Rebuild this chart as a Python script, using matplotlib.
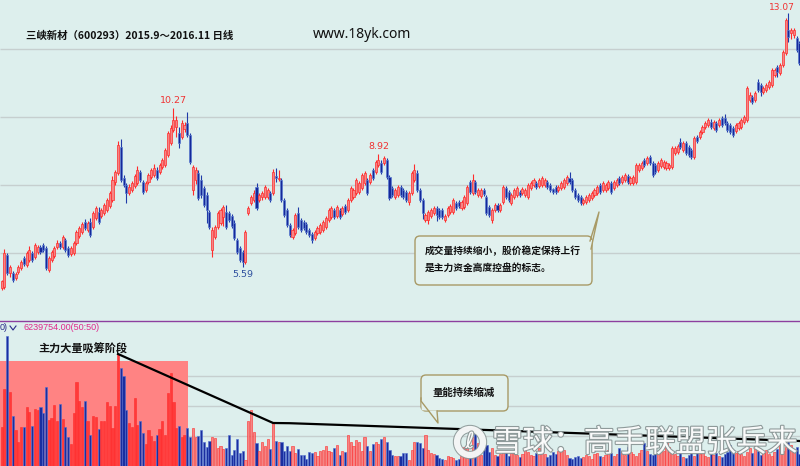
import matplotlib
matplotlib.use("Agg")
import matplotlib.pyplot as plt
from matplotlib.patches import FancyBboxPatch, Polygon, Rectangle, Circle
import matplotlib.patheffects as pe
import numpy as np

plt.rcParams['font.family'] = ['Noto Sans CJK SC', 'DejaVu Sans']

# ---------------- data (daily candles, 三峡新材 600293) ----------------
opens = [4.97, 5.00, 5.94, 5.41, 5.41, 5.26, 5.44, 5.56, 5.85, 5.65,
         5.79, 6.00, 5.88, 6.03, 6.17, 6.23, 6.15, 5.50, 5.79, 5.91,
         6.17, 6.29, 6.17, 6.38, 6.15, 5.97, 6.00, 6.29, 6.50, 6.62,
         6.91, 6.68, 6.91, 6.76, 7.03, 7.21, 7.09, 7.18, 7.26, 7.38,
         7.56, 8.09, 8.35, 9.12, 8.21, 8.00, 7.76, 7.85, 7.97, 8.06,
         8.38, 8.09, 7.85, 8.09, 8.23, 8.29, 8.44, 8.38, 8.53, 8.59,
         8.88, 9.23, 9.62, 9.70, 9.53, 9.41, 9.65, 9.82, 9.47, 7.85,
         8.15, 8.35, 8.15, 7.91, 7.70, 7.21, 6.09, 6.47, 6.76, 6.88,
         7.06, 7.21, 7.18, 7.09, 6.88, 6.38, 6.15, 6.03, 5.74, 7.18,
         7.47, 7.56, 7.94, 7.56, 7.65, 7.65, 7.65, 7.76, 7.76, 8.26,
         8.18, 8.15, 7.56, 7.26, 6.82, 6.47, 6.59, 7.18, 6.97, 6.91,
         6.85, 6.68, 6.56, 6.44, 6.59, 6.62, 6.68, 6.76, 6.97, 7.06,
         7.26, 7.09, 7.26, 7.15, 7.38, 7.26, 7.56, 7.65, 7.76, 7.79,
         7.91, 8.06, 8.15, 8.09, 8.44, 8.38, 8.59, 8.65, 8.65, 8.73,
         8.23, 7.91, 7.65, 7.70, 7.94, 7.85, 7.79, 7.50, 7.76, 8.15,
         8.35, 7.85, 7.56, 6.97, 6.97, 7.09, 7.18, 7.32, 7.26, 7.26,
         6.97, 7.12, 7.21, 7.21, 7.47, 7.50, 7.32, 7.35, 7.47, 8.09,
         7.76, 8.09, 7.70, 7.68, 7.85, 7.65, 7.35, 6.97, 7.26, 7.41,
         7.26, 7.50, 7.91, 7.79, 7.47, 7.65, 7.70, 7.79, 7.76, 7.70,
         7.65, 7.91, 8.00, 8.06, 7.97, 8.00, 8.00, 8.09, 8.00, 7.88,
         7.94, 7.85, 7.91, 7.94, 8.06, 8.21, 8.15, 7.85, 7.70, 7.65,
         7.47, 7.50, 7.56, 7.62, 7.70, 7.76, 8.00, 7.85, 7.85, 7.91,
         8.06, 7.91, 8.00, 8.21, 8.09, 8.15, 8.26, 8.06, 8.06, 8.09,
         8.44, 8.50, 8.73, 8.65, 8.82, 8.65, 8.59, 8.44, 8.56, 8.53,
         8.50, 8.50, 8.53, 8.94, 8.97, 9.26, 9.03, 9.23, 9.12, 9.03,
         8.82, 9.41, 9.41, 9.56, 9.70, 9.76, 9.85, 9.67, 9.82, 9.76,
         9.97, 9.97, 9.82, 9.76, 9.67, 9.59, 9.67, 9.70, 9.85, 9.91,
         10.50, 10.59, 10.50, 11.03, 10.94, 10.73, 10.79, 10.88, 10.94, 11.23,
         11.47, 11.29, 11.53, 11.88, 12.56, 12.47, 12.41, 12.32, 12.18]
closes = [5.18, 6.00, 5.41, 5.59, 5.21, 5.38, 5.59, 5.74, 5.68, 6.00,
          6.09, 5.79, 6.23, 6.17, 6.03, 6.09, 5.56, 5.85, 6.03, 6.15,
          6.29, 6.17, 6.47, 6.09, 5.94, 6.15, 6.29, 6.62, 6.73, 6.85,
          6.73, 6.88, 6.53, 7.18, 7.32, 6.91, 7.26, 7.41, 7.56, 7.76,
          8.15, 8.38, 9.18, 8.15, 8.00, 7.76, 7.94, 8.06, 8.26, 8.44,
          8.15, 7.79, 8.06, 8.29, 8.44, 8.50, 8.20, 8.59, 8.73, 9.03,
          9.53, 9.68, 9.91, 9.91, 9.23, 9.82, 9.76, 9.47, 8.68, 8.53,
          8.44, 7.62, 7.70, 7.41, 7.26, 6.76, 6.68, 6.76, 7.18, 7.26,
          7.35, 6.76, 6.97, 6.79, 6.44, 6.03, 5.79, 5.74, 6.62, 7.32,
          7.65, 7.76, 7.32, 7.70, 7.76, 7.94, 7.85, 7.56, 8.38, 8.20,
          8.21, 7.56, 7.12, 6.82, 6.53, 6.68, 7.12, 6.76, 6.68, 6.73,
          6.62, 6.53, 6.38, 6.62, 6.73, 6.82, 6.91, 7.03, 7.26, 7.32,
          7.06, 7.35, 7.06, 7.32, 7.21, 7.56, 7.91, 7.85, 8.15, 8.06,
          8.29, 8.35, 7.76, 8.29, 8.21, 8.68, 8.73, 8.38, 8.79, 8.23,
          7.62, 7.70, 7.85, 7.94, 7.70, 7.65, 7.56, 7.76, 8.35, 8.44,
          7.85, 7.56, 7.18, 7.12, 7.21, 7.26, 7.32, 7.12, 7.06, 7.06,
          7.09, 7.32, 7.38, 7.56, 7.32, 7.38, 7.50, 7.65, 7.94, 7.79,
          8.15, 7.79, 7.85, 7.85, 7.73, 7.18, 7.12, 7.26, 7.41, 7.26,
          7.41, 7.94, 7.65, 7.56, 7.70, 7.85, 7.91, 7.70, 7.88, 7.85,
          8.00, 8.06, 8.15, 7.94, 8.15, 8.21, 8.15, 7.94, 7.85, 7.80,
          7.79, 7.94, 8.06, 8.15, 8.23, 8.09, 7.85, 7.65, 7.56, 7.47,
          7.56, 7.65, 7.70, 7.76, 7.85, 7.94, 7.79, 8.06, 8.00, 8.09,
          7.79, 8.09, 8.15, 8.06, 8.23, 8.29, 8.09, 8.21, 8.23, 8.59,
          8.59, 8.65, 8.59, 8.79, 8.65, 8.29, 8.38, 8.65, 8.73, 8.68,
          8.65, 8.59, 9.09, 9.09, 9.15, 9.12, 9.23, 8.94, 8.88, 8.82,
          9.38, 9.29, 9.56, 9.70, 9.82, 9.91, 9.70, 9.85, 9.62, 9.91,
          9.76, 9.82, 9.62, 9.56, 9.47, 9.76, 9.82, 9.91, 10.00, 10.85,
          10.65, 10.44, 10.70, 10.79, 10.73, 10.85, 10.94, 11.03, 11.38, 11.38,
          11.32, 11.53, 11.91, 12.85, 12.35, 12.56, 12.56, 11.97, 11.59]
highs = [5.22, 6.12, 5.99, 5.65, 5.47, 5.44, 5.65, 5.80, 5.91, 6.06,
         6.20, 6.06, 6.29, 6.23, 6.23, 6.29, 6.20, 5.91, 6.09, 6.20,
         6.38, 6.35, 6.53, 6.44, 6.20, 6.20, 6.35, 6.68, 6.79, 6.91,
         7.00, 6.94, 7.03, 7.24, 7.38, 7.35, 7.32, 7.47, 7.62, 7.82,
         8.26, 8.44, 9.29, 9.35, 8.29, 8.06, 8.03, 8.12, 8.32, 8.56,
         8.44, 8.15, 8.12, 8.35, 8.50, 8.62, 8.53, 8.65, 8.79, 9.09,
         9.59, 9.76, 10.27, 10.03, 9.70, 9.91, 9.85, 10.15, 9.53, 8.59,
         8.53, 8.44, 8.29, 7.97, 7.79, 7.26, 6.76, 6.82, 7.24, 7.32,
         7.41, 7.41, 7.24, 7.15, 6.97, 6.44, 6.20, 6.09, 6.68, 7.38,
         7.70, 7.85, 8.06, 7.76, 7.82, 8.00, 7.91, 7.82, 8.47, 8.50,
         8.44, 8.21, 7.62, 7.32, 6.88, 6.73, 7.18, 7.35, 7.03, 6.97,
         6.91, 6.73, 6.62, 6.68, 6.79, 6.88, 6.97, 7.09, 7.32, 7.38,
         7.32, 7.41, 7.32, 7.38, 7.44, 7.62, 7.97, 7.91, 8.21, 8.12,
         8.35, 8.41, 8.21, 8.35, 8.50, 8.73, 8.92, 8.73, 8.85, 8.79,
         8.29, 7.97, 7.91, 8.00, 8.00, 7.91, 7.85, 7.82, 8.41, 8.62,
         8.44, 7.91, 7.62, 7.18, 7.26, 7.32, 7.38, 7.38, 7.32, 7.32,
         7.15, 7.38, 7.44, 7.62, 7.53, 7.56, 7.56, 7.70, 8.00, 8.15,
         8.32, 8.15, 7.91, 7.91, 7.91, 7.70, 7.41, 7.32, 7.47, 7.47,
         7.47, 8.00, 7.97, 7.85, 7.76, 7.91, 7.97, 7.85, 7.94, 7.91,
         8.06, 8.12, 8.21, 8.12, 8.21, 8.26, 8.21, 8.15, 8.06, 7.92,
         8.00, 8.00, 8.12, 8.21, 8.29, 8.38, 8.21, 7.91, 7.76, 7.70,
         7.62, 7.70, 7.76, 7.82, 7.91, 8.00, 8.06, 8.12, 8.06, 8.15,
         8.12, 8.15, 8.21, 8.26, 8.29, 8.35, 8.32, 8.26, 8.29, 8.65,
         8.65, 8.70, 8.79, 8.85, 8.88, 8.70, 8.65, 8.70, 8.79, 8.73,
         8.70, 8.65, 9.15, 9.15, 9.21, 9.38, 9.29, 9.29, 9.18, 9.09,
         9.44, 9.47, 9.62, 9.76, 9.88, 9.97, 9.94, 9.91, 9.88, 9.97,
         10.03, 10.09, 9.88, 9.82, 9.73, 9.82, 9.88, 9.97, 10.06, 10.91,
         10.73, 10.65, 10.76, 11.12, 11.00, 10.91, 11.00, 11.09, 11.44, 11.44,
         11.53, 11.59, 11.97, 12.91, 13.07, 12.62, 12.62, 12.38, 12.23]
lows = [4.90, 4.95, 5.35, 5.30, 5.15, 5.20, 5.38, 5.50, 5.62, 5.60,
        5.74, 5.74, 5.82, 5.97, 5.97, 6.03, 5.50, 5.44, 5.74, 5.85,
        6.12, 6.12, 6.12, 6.03, 5.88, 5.91, 5.94, 6.23, 6.44, 6.56,
        6.68, 6.62, 6.47, 6.70, 6.97, 6.85, 7.03, 7.12, 7.21, 7.32,
        7.50, 8.00, 8.29, 8.09, 7.94, 7.47, 7.70, 7.79, 7.91, 8.00,
        8.09, 7.73, 7.79, 8.03, 8.18, 8.23, 8.15, 8.32, 8.47, 8.53,
        8.82, 9.18, 9.56, 9.41, 9.09, 9.35, 9.56, 9.41, 8.62, 7.70,
        8.03, 7.56, 7.62, 7.35, 6.88, 6.70, 5.88, 6.41, 6.70, 6.82,
        6.79, 6.70, 6.91, 6.73, 6.38, 5.97, 5.74, 5.59, 5.68, 7.12,
        7.41, 7.50, 7.26, 7.50, 7.56, 7.59, 7.59, 7.50, 7.70, 8.09,
        8.12, 7.50, 7.06, 6.76, 6.47, 6.41, 6.53, 6.70, 6.62, 6.68,
        6.56, 6.47, 6.29, 6.38, 6.53, 6.56, 6.62, 6.70, 6.91, 7.00,
        7.00, 7.03, 7.00, 7.09, 7.15, 7.21, 7.50, 7.59, 7.70, 7.73,
        7.85, 8.00, 7.70, 8.03, 8.15, 8.32, 8.53, 8.32, 8.59, 8.18,
        7.56, 7.65, 7.59, 7.65, 7.65, 7.59, 7.50, 7.41, 7.70, 8.09,
        7.79, 7.50, 7.00, 6.91, 6.85, 7.03, 7.12, 6.94, 7.00, 7.00,
        6.91, 7.06, 7.15, 7.15, 7.26, 7.32, 7.26, 7.29, 7.41, 7.73,
        7.70, 7.73, 7.65, 7.62, 7.68, 7.12, 7.06, 6.88, 7.21, 7.21,
        7.21, 7.44, 7.59, 7.50, 7.41, 7.59, 7.65, 7.65, 7.70, 7.65,
        7.59, 7.85, 7.94, 7.88, 7.91, 7.94, 7.94, 7.88, 7.79, 7.74,
        7.73, 7.79, 7.85, 7.88, 8.00, 8.03, 7.79, 7.59, 7.50, 7.41,
        7.41, 7.44, 7.50, 7.56, 7.65, 7.70, 7.73, 7.79, 7.79, 7.85,
        7.73, 7.85, 7.94, 8.00, 8.03, 8.09, 8.03, 8.00, 8.00, 8.03,
        8.38, 8.44, 8.53, 8.59, 8.59, 8.23, 8.32, 8.38, 8.50, 8.47,
        8.44, 8.44, 8.47, 8.88, 8.91, 9.06, 8.97, 8.88, 8.82, 8.76,
        8.76, 9.23, 9.35, 9.50, 9.65, 9.70, 9.65, 9.62, 9.56, 9.70,
        9.70, 9.76, 9.56, 9.50, 9.41, 9.53, 9.62, 9.65, 9.79, 9.85,
        10.44, 10.38, 10.44, 10.73, 10.62, 10.67, 10.73, 10.82, 10.88, 11.18,
        11.18, 11.23, 11.47, 11.82, 12.20, 12.29, 12.32, 11.91, 11.53]
# volume, millions of shares
volumes = [3.9, 7.7, 13.0, 7.4, 5.0, 3.6, 2.4, 3.9, 3.9, 5.9,
           5.4, 4.0, 5.7, 5.6, 5.9, 5.3, 7.9, 4.6, 4.8, 6.1,
           4.5, 6.2, 4.7, 3.9, 2.9, 2.2, 5.3, 8.4, 6.5, 5.9,
           6.5, 4.5, 3.1, 5.0, 4.9, 3.7, 4.5, 4.5, 6.4, 6.0,
           3.8, 6.0, 11.2, 9.8, 9.0, 5.6, 4.3, 3.9, 6.8, 4.1,
           4.5, 3.3, 2.2, 3.6, 3.0, 2.5, 3.1, 3.7, 4.5, 3.1,
           7.3, 9.3, 6.4, 3.8, 4.0, 2.9, 3.1, 3.8, 2.9, 3.8,
           2.9, 3.0,
           3.6, 2.4, 1.9, 2.5, 2.9, 2.8, 1.8, 2.0, 1.7, 1.8,
           3.1, 1.1, 1.6, 2.7, 1.3, 1.5, 0.6, 4.5, 5.6, 3.4,
           2.3, 1.5, 2.4, 2.0, 2.7, 1.7, 4.3, 2.5, 2.4, 2.4,
           1.5, 2.0, 1.5, 2.0, 1.3, 1.7, 1.1, 1.1, 0.7, 1.4,
           1.3, 1.4, 1.0, 1.5, 1.6, 2.0, 1.5, 1.4, 1.8, 2.1,
           1.1, 1.5, 1.4, 3.1, 2.4, 2.0, 2.6, 2.4, 1.5, 2.9,
           2.0, 1.5, 2.2, 2.4, 2.2, 2.7, 2.9, 2.4, 1.6, 1.1,
           1.0, 1.0,
           1.0, 1.3, 1.3, 0.6, 1.6, 2.4, 2.4, 2.3, 1.8, 3.1,
           1.6, 1.3, 1.2, 1.1, 0.8, 0.7, 0.6, 1.0, 0.9, 0.8,
           0.6, 0.7, 1.0, 1.9, 1.8, 1.1, 2.9, 3.5, 2.3, 1.1,
           1.6, 2.1, 1.4, 1.8, 1.1, 1.0,
           1.2, 1.4, 1.6, 1.0, 1.3, 1.5, 1.1, 0.9, 1.2, 1.6,
           1.4, 1.1, 1.0, 1.3, 1.8, 1.5, 1.2, 0.9, 1.1, 1.4,
           1.2, 1.5, 1.9, 1.6, 1.1, 0.8, 0.7, 0.9, 1.0, 0.8,
           0.9, 1.1, 1.0, 0.7, 1.2, 1.3, 1.0, 0.9, 1.1, 1.6,
           1.3, 1.0, 1.2, 1.8, 1.5, 1.1, 1.9, 1.4, 1.2, 1.0,
           1.3, 1.6, 2.3, 1.5, 1.2, 1.1, 1.4, 1.2, 1.8, 1.5,
           2.3, 1.9, 1.4, 1.2, 1.0, 1.6, 0.9, 0.8, 1.1, 1.3,
           1.0, 1.5, 1.2, 1.4, 1.0, 0.9, 1.2, 1.1, 1.3, 1.0,
           0.9, 1.2, 1.4, 2.1, 1.6, 1.3, 1.5, 1.2, 1.0, 1.4,
           1.8, 1.3, 2.1, 1.5, 1.1, 1.3, 1.6, 1.2, 1.0, 1.4,
           1.7, 2.4, 1.5, 1.9, 2.8, 2.1, 1.5, 1.9, 1.2]

price_grid = [6, 8, 10, 12]
volume_grid = [3, 6, 9]
# labelled extremes: candle indices
marked_highs = [62, 136, 284]
marked_lows = [87]
# volume trend line (candle index, volume)
trend_idx = [42, 98, 104, 144, 206, 288]
trend_vol = [11.2, 4.3, 4.28, 3.9, 3.3, 2.5]
accum_end_idx = 67.3
accum_top = 10.5

title = "三峡新材（600293）2015.9～2016.11 日线"
site = "www.18yk.com"
note1 = ["成交量持续缩小，股价稳定保持上行", "是主力资金高度控盘的标志。"]
note2 = "量能持续缩减"
note3 = "主力大量吸筹阶段"
vol_header_a = "0)"
vol_header_b = "6239754.00(50:50)"
watermark = "雪球：高手联盟张兵来"

# ---------------- figure ----------------
BG = '#ddefed'
W, H = 800, 466
fig = plt.figure(figsize=(W / 100, H / 100), dpi=100, facecolor=BG)

o = np.array(opens); c = np.array(closes); hi = np.array(highs); lo = np.array(lows)
v = np.array(volumes)
n = len(o)
x = np.arange(n)
up = c >= o
XL = (-0.61, 288.2)

ax_p = fig.add_axes([0, 1 - 320 / H, 1, 320 / H])
ax_p.set_xlim(*XL)
ax_p.set_ylim(4.03, 13.44)
ax_p.set_axis_off()
ax_p.hlines(price_grid, XL[0], XL[1], color='#c6cfcf', lw=1.0, zorder=0)

wick_col = np.where(up, '#ff2b2b', '#1f3aa8')
face_col = np.where(up, '#f58585', '#15289a')
edge_col = np.where(up, '#ff2b2b', '#5a7bd0')
ax_p.vlines(x, lo, hi, colors=wick_col, lw=0.8, zorder=2)
bottoms = np.minimum(o, c)
heights = np.maximum(np.abs(c - o), 0.03)
ax_p.bar(x, heights, bottom=bottoms, width=0.75, color=face_col,
         edgecolor=edge_col, linewidth=0.5, zorder=3)

for i in marked_highs:
    near_edge = i >= n - 8
    ax_p.annotate(f"{hi[i]:.2f}", xy=(i, hi[i]),
                  xytext=(-5 if near_edge else 0, 0.5 if near_edge else 2),
                  textcoords='offset points',
                  ha='center', va='bottom', fontsize=6.5 if near_edge else 6.8,
                  color='#f03232', family='DejaVu Sans', annotation_clip=False)
for i in marked_lows:
    ax_p.annotate(f"{lo[i]:.2f}", xy=(i, lo[i]), xytext=(0, -2), textcoords='offset points',
                  ha='center', va='top', fontsize=6.8, color='#2d4f9e',
                  family='DejaVu Sans')

# volume panel
ax_v = fig.add_axes([0, 0, 1, 144 / H])
ax_v.set_xlim(*XL)
ax_v.set_ylim(0, 14.4)
ax_v.set_axis_off()
ax_v.hlines(volume_grid, XL[0], XL[1], color='#c6cfcf', lw=1.0, zorder=0)
ax_v.add_patch(Rectangle((XL[0], 0), accum_end_idx - XL[0], accum_top,
                         facecolor='#ff8383', edgecolor='none', zorder=1))
in_zone = x <= accum_end_idx
vface = np.where(up, np.where(in_zone, '#ff3a3a', '#f58585'), '#1a2ea0')
vedge = np.where(up, '#ff2b2b', '#4f6fd0')
ax_v.bar(x, v, width=0.78, color=vface, edgecolor=vedge, linewidth=0.4, zorder=2)
ax_v.plot(trend_idx, trend_vol, color='black', lw=1.6, zorder=4)

# ---------------- overlay annotations (pixel coords) ----------------
ov = fig.add_axes([0, 0, 1, 1], zorder=10)
ov.set_xlim(0, W)
ov.set_ylim(H, 0)
ov.set_axis_off()
ov.patch.set_alpha(0)

ov.plot([0, W], [321, 321], color='#8c3f9f', lw=1.0)
ov.text(26, 36, title, fontsize=7.5, fontweight='bold', color='#111111', ha='left', va='center')
ov.text(313, 35, site, fontsize=10, color='#111111', ha='left', va='center',
        family=['Noto Sans', 'DejaVu Sans'])

ov.text(0, 328, vol_header_a, fontsize=6.5, color='#2a2a8a', ha='left', va='center',
        family='Liberation Sans')
ov.plot([10, 13, 16], [326, 330, 326], color='#2a2a8a', lw=0.8)
ov.text(23, 328, vol_header_b, fontsize=6.5, color='#e0288c', ha='left', va='center',
        family='Liberation Sans')

ov.text(38, 349, note3, fontsize=8, fontweight='bold', color='#111111', ha='left', va='center')

# callout 1
BOXC = '#a89a66'
ov.add_patch(Polygon([(590, 239), (599, 212), (590, 250)], closed=True,
                     facecolor=BG, edgecolor='none', zorder=1))
ov.plot([590, 599, 591], [241, 212, 249], color=BOXC, lw=1.0, zorder=2)
ov.add_patch(FancyBboxPatch((415, 236), 177, 49, boxstyle='round,pad=0,rounding_size=5',
                            facecolor='#e2f1ee', edgecolor=BOXC, lw=1.0, zorder=1.5))
ov.add_patch(Polygon([(590.4, 240), (592, 240), (592, 248), (590.4, 248)], closed=True,
                     facecolor='#e2f1ee', edgecolor='none', zorder=1.6))
ov.text(425, 251, note1[0], fontsize=7, fontweight='bold', color='#111111', ha='left', va='center', zorder=3)
ov.text(425, 268, note1[1], fontsize=7, fontweight='bold', color='#111111', ha='left', va='center', zorder=3)

# callout 2
ov.add_patch(FancyBboxPatch((421, 375), 87, 36, boxstyle='round,pad=0,rounding_size=5',
                            facecolor='#e2f1ee', edgecolor=BOXC, lw=1.0, zorder=1.5))
ov.add_patch(Polygon([(421.6, 400), (438, 423), (437, 410.4), (421.6, 410.4)], closed=True,
                     facecolor='#e2f1ee', edgecolor='none', zorder=1.6))
ov.plot([421, 421, 438, 437], [398, 401, 423, 411], color=BOXC, lw=1.0, zorder=1.7)
ov.text(464, 393, note2, fontsize=7.5, fontweight='bold', color='#111111', ha='center', va='center', zorder=3)

# watermark
stroke = [pe.withStroke(linewidth=1.6, foreground='#8a9696')]
ov.add_patch(Circle((470, 442), 13, facecolor='none', edgecolor='white', lw=4.5, alpha=0.9,
                    path_effects=[pe.withStroke(linewidth=6, foreground='#8a9696')], zorder=5))
ov.text(470, 442, "ℓ", fontsize=16, color='white', ha='center', va='center', alpha=0.95,
        family='DejaVu Sans', path_effects=stroke, zorder=6)
ov.text(492, 443, watermark, fontsize=22, color='white', ha='left', va='center', alpha=0.95,
        path_effects=stroke, zorder=6)

fig.savefig("out.png", dpi=100, facecolor=BG)
